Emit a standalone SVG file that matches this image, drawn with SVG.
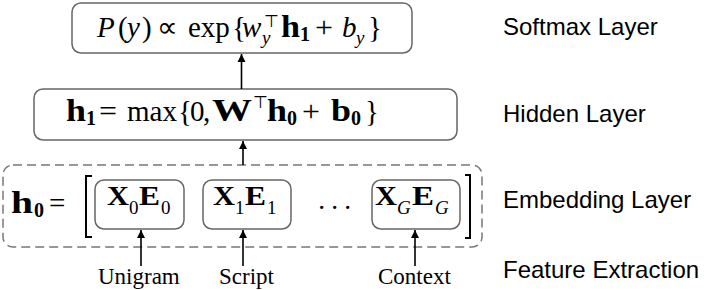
<svg xmlns="http://www.w3.org/2000/svg" width="704" height="290" viewBox="0 0 704 290">
<defs>
<style>
.box{fill:#fff;stroke:#666;stroke-width:1.5}
.dash{fill:none;stroke:#777;stroke-width:1.5;stroke-dasharray:9 5}
.m{font-family:"Liberation Serif","Times New Roman",serif;fill:#000}
.b{font-weight:bold}
.i{font-style:italic}
.lbl{font-family:"Liberation Serif","Times New Roman",serif;font-size:23px;fill:#000}
.side{font-family:"Liberation Sans",Arial,Helvetica,sans-serif;font-size:24px;fill:#000}
.arr{stroke:#000;stroke-width:1.6;fill:none;marker-end:url(#ah)}
.brk{stroke:#000;stroke-width:2;fill:none}
</style>
<marker id="ah" markerUnits="userSpaceOnUse" markerWidth="8" markerHeight="9" refX="8" refY="4" orient="auto" viewBox="0 0 8 8">
<path d="M0,0 L8,4 L0,8 z" fill="#000"/>
</marker>
</defs>

<g id="embedding-layer">
<rect class="dash" x="3" y="165" width="479" height="82" rx="10"/>
<text class="m" font-size="29"><tspan class="b" x="11" y="213" font-size="32" textLength="22" lengthAdjust="spacingAndGlyphs">h</tspan><tspan class="b" x="34" y="217" font-size="20">0</tspan><tspan x="49" y="213">=</tspan></text>
<path class="brk" d="M92,176 H86 V237 H92"/>
<path class="brk" d="M465,175 H470 V238 H465"/>
<text class="m" font-size="28"><tspan x="317" y="217">·</tspan><tspan x="330" y="217">·</tspan><tspan x="343" y="217">·</tspan></text>
</g>

<g id="node-x0e0">
<rect class="box" x="95" y="180" width="89" height="49" rx="9"/>
<text class="m" font-size="28"><tspan class="b" x="107" y="205" textLength="22" lengthAdjust="spacingAndGlyphs">X</tspan><tspan x="129" y="214" font-size="19">0</tspan><tspan class="b" x="139" y="205" textLength="21" lengthAdjust="spacingAndGlyphs">E</tspan><tspan x="161" y="214" font-size="19">0</tspan></text>
</g>

<g id="node-x1e1">
<rect class="box" x="203" y="180" width="88" height="49" rx="9"/>
<text class="m" font-size="28"><tspan class="b" x="213" y="205" textLength="22" lengthAdjust="spacingAndGlyphs">X</tspan><tspan x="235" y="214" font-size="19">1</tspan><tspan class="b" x="245" y="205" textLength="21" lengthAdjust="spacingAndGlyphs">E</tspan><tspan x="267" y="214" font-size="19">1</tspan></text>
</g>

<g id="node-xgeg">
<rect class="box" x="372" y="180" width="88" height="49" rx="9"/>
<text class="m" font-size="28"><tspan class="b" x="375" y="205" textLength="22" lengthAdjust="spacingAndGlyphs">X</tspan><tspan class="i" x="397" y="214" font-size="19">G</tspan><tspan class="b" x="412" y="205" textLength="22" lengthAdjust="spacingAndGlyphs">E</tspan><tspan class="i" x="435" y="214" font-size="19">G</tspan></text>
</g>

<g id="hidden-layer">
<rect class="box" x="34" y="89" width="423" height="51" rx="9"/>
<text class="m" font-size="29"><tspan class="b" x="66" y="121" font-size="32" textLength="20" lengthAdjust="spacingAndGlyphs">h</tspan><tspan class="b" x="86" y="125" font-size="20">1</tspan><tspan x="99" y="121" textLength="18" lengthAdjust="spacingAndGlyphs">=</tspan><tspan x="127" y="121" textLength="50" lengthAdjust="spacingAndGlyphs">max</tspan><tspan x="178" y="121">{</tspan><tspan x="190" y="121">0</tspan><tspan x="203" y="121">,</tspan><tspan class="b" x="212" y="121" font-size="32" textLength="40" lengthAdjust="spacingAndGlyphs">W</tspan><tspan x="253" y="108" font-size="17">⊤</tspan><tspan class="b" x="267" y="121" font-size="32" textLength="20" lengthAdjust="spacingAndGlyphs">h</tspan><tspan class="b" x="287" y="125" font-size="20">0</tspan><tspan x="302" y="121" textLength="18" lengthAdjust="spacingAndGlyphs">+</tspan><tspan class="b" x="331" y="121" font-size="32" textLength="20" lengthAdjust="spacingAndGlyphs">b</tspan><tspan class="b" x="351" y="125" font-size="20">0</tspan><tspan x="365" y="121">}</tspan></text>
</g>

<g id="softmax-layer">
<rect class="box" x="72" y="3" width="340" height="50" rx="9"/>
<text class="m" font-size="29"><tspan class="i" x="97" y="37">P</tspan><tspan x="118" y="37">(</tspan><tspan class="i" x="127" y="37">y</tspan><tspan x="142" y="37">)</tspan><tspan x="157" y="37">∝</tspan><tspan x="188" y="37">exp</tspan><tspan x="232" y="37">{</tspan><tspan class="i" x="242" y="37">w</tspan><tspan x="264" y="27" font-size="17">⊤</tspan><tspan class="i" x="262" y="44" font-size="19">y</tspan><tspan class="b" x="281" y="37" font-size="32" textLength="19" lengthAdjust="spacingAndGlyphs">h</tspan><tspan class="b" x="300" y="41" font-size="20">1</tspan><tspan x="315" y="37" textLength="18" lengthAdjust="spacingAndGlyphs">+</tspan><tspan class="i" x="342" y="37">b</tspan><tspan class="i" x="356" y="44" font-size="19">y</tspan><tspan x="368" y="37">}</tspan></text>
</g>

<g id="inputs">
<text class="lbl" x="98" y="284">Unigram</text>
<text class="lbl" x="219" y="284">Script</text>
<text class="lbl" x="378" y="284">Context</text>
</g>

<g id="side-labels">
<text class="side" x="503" y="35">Softmax Layer</text>
<text class="side" x="503" y="122">Hidden Layer</text>
<text class="side" x="503" y="208">Embedding Layer</text>
<text class="side" x="503" y="278">Feature Extraction</text>
</g>

<g id="connectors">
<line class="arr" x1="241.5" y1="89" x2="241.5" y2="54"/>
<line class="arr" x1="243" y1="165" x2="243" y2="141"/>
<line class="arr" x1="141" y1="266" x2="141" y2="230"/>
<line class="arr" x1="243" y1="266" x2="243" y2="230"/>
<line class="arr" x1="415" y1="266" x2="415" y2="230"/>
</g>
</svg>
